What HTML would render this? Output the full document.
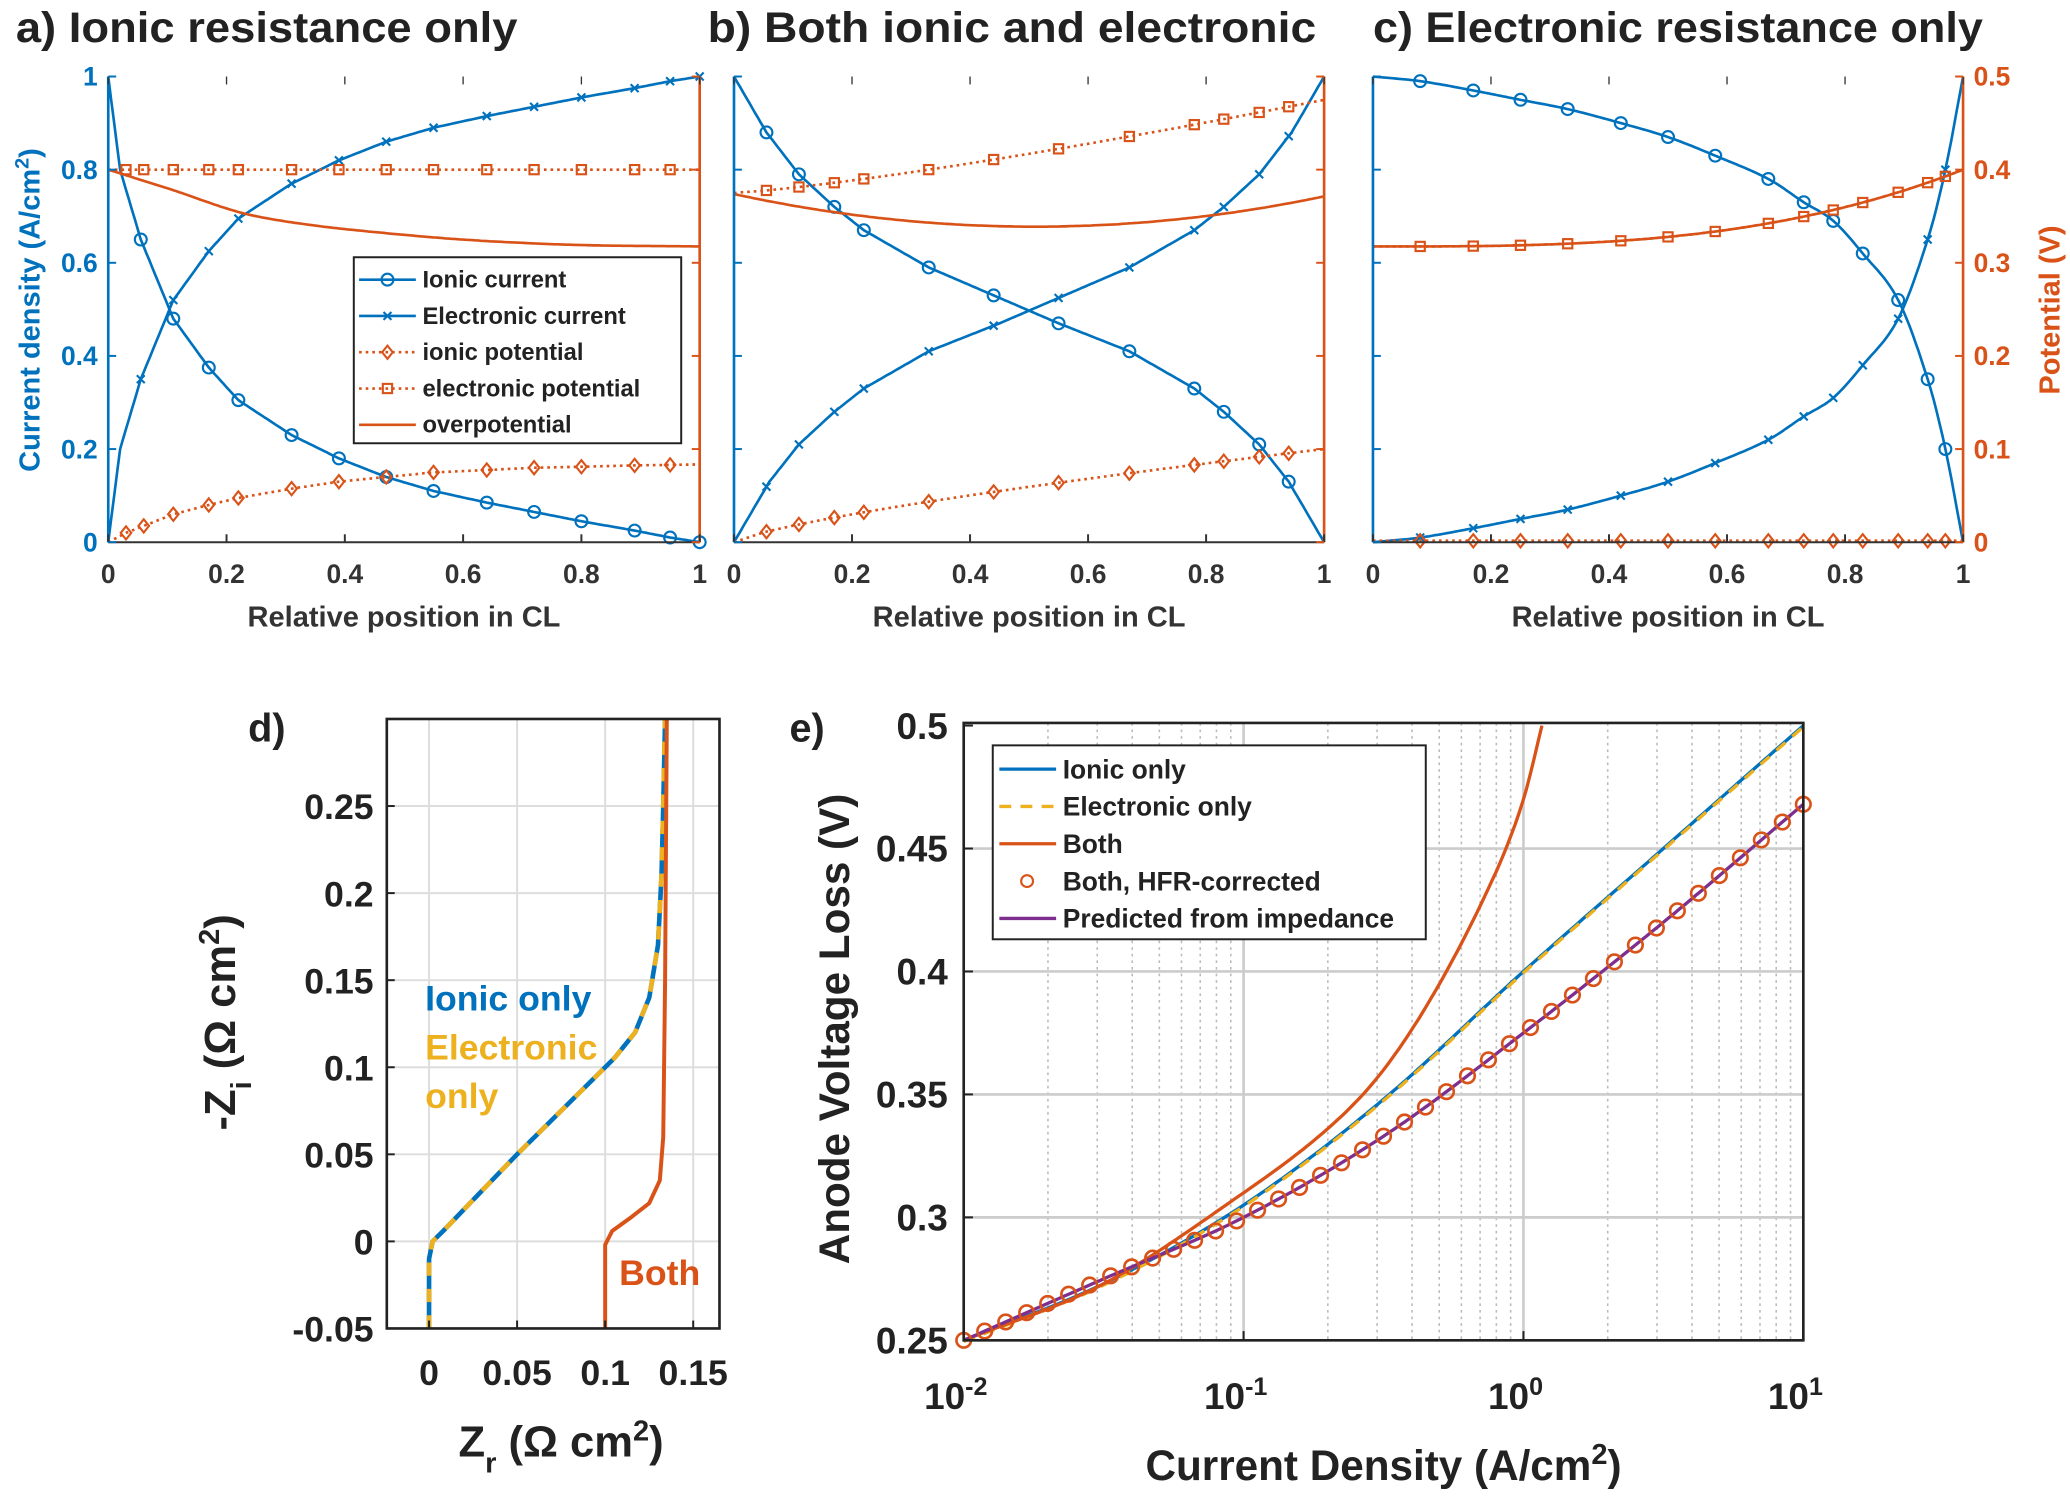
<!DOCTYPE html>
<html><head><meta charset="utf-8">
<style>
html,body{margin:0;padding:0;background:#fff;}
svg{display:block;font-family:"Liberation Sans",sans-serif;font-weight:bold;}
</style></head>
<body>
<svg id="s" width="2070" height="1496" viewBox="0 0 1568 1134" preserveAspectRatio="none" xmlns="http://www.w3.org/2000/svg">
</svg>
<script>
const B="#0072BD",O="#D95319",Y="#EDB120",P="#7E2F8E";
let h="";
function line(x1,y1,x2,y2,c,w,d){h+=`<line x1="${x1}" y1="${y1}" x2="${x2}" y2="${y2}" stroke="${c}" stroke-width="${w||1}" ${d?`stroke-dasharray="${d}"`:""}/>`;}
function txt(x,y,t,s,c,a,extra){h+=`<text x="${x}" y="${y}" font-size="${s}" fill="${c||'#222'}" text-anchor="${a||'start'}" ${extra||''}>${t}</text>`;}
function pl(pts,c,w,d){h+=`<polyline fill="none" stroke="${c}" stroke-width="${w}" stroke-linejoin="round" ${d?`stroke-dasharray="${d}"`:""} points="${pts.map(p=>p[0].toFixed(1)+","+p[1].toFixed(1)).join(" ")}"/>`;}
function interp(tab,x){for(let i=0;i<tab.length-1;i++){if(x<=tab[i+1][0]){const t=(x-tab[i][0])/(tab[i+1][0]-tab[i][0]);return tab[i][1]+t*(tab[i+1][1]-tab[i][1]);}}return tab[tab.length-1][1];}
function sinterp(tab,x){let i=0;while(i<tab.length-2&&x>tab[i+1][0])i++;
 const p0=tab[Math.max(i-1,0)],p1=tab[i],p2=tab[i+1],p3=tab[Math.min(i+2,tab.length-1)];
 const t=(x-p1[0])/(p2[0]-p1[0]);const m1=(p2[1]-p0[1])/(p2[0]-p0[0])*(p2[0]-p1[0]);const m2=(p3[1]-p1[1])/(p3[0]-p1[0])*(p2[0]-p1[0]);
 const t2=t*t,t3=t2*t;return (2*t3-3*t2+1)*p1[1]+(t3-2*t2+t)*m1+(-2*t3+3*t2)*p2[1]+(t3-t2)*m2;}
function marker(type,x,y,c){
 if(type=="o")h+=`<circle cx="${x}" cy="${y}" r="4.5" fill="none" stroke="${c}" stroke-width="1.6"/>`;
 if(type=="x"){h+=`<path d="M${x-3},${y-3}L${x+3},${y+3}M${x-3},${y+3}L${x+3},${y-3}" stroke="${c}" stroke-width="1.6"/>`;}
 if(type=="d")h+=`<path d="M${x},${y-5}L${x+4},${y}L${x},${y+5}L${x-4},${y}Z" fill="none" stroke="${c}" stroke-width="1.6"/>`;
 if(type=="s")h+=`<rect x="${x-3.5}" y="${y-3.5}" width="7" height="7" fill="none" stroke="${c}" stroke-width="1.6"/>`;
 if(type=="oo")h+=`<circle cx="${x}" cy="${y}" r="5.5" fill="none" stroke="${c}" stroke-width="2"/>`;
}
const T=58,Bt=411;
function topPanel(x0,x1,title,tx,tw,curves,leftLabels,rightLabels){
 const X=v=>x0+v*(x1-x0),Yv=v=>Bt-v*(Bt-T);
 for(const c of curves){
  const f=c.sm?sinterp:interp;
  const pts=[];for(let i=0;i<=200;i++){const v=i/200;pts.push([X(v),Yv(f(c.t,v))]);}
  pl(pts,c.c,2,c.dash);
  for(const m of c.m)marker(c.mk,X(m),Yv(f(c.t,m)),c.c);
 }
 line(x0,T,x0,Bt,B,2);line(x0,Bt,x1,Bt,"#333",1.5);line(x1,T,x1,Bt,O,2);
 for(let i=0;i<=5;i++){const x=X(i/5);line(x,Bt,x,Bt-6,"#333",1.5);line(x,T,x,T+6,"#333",1);
  txt(x,442,["0","0.2","0.4","0.6","0.8","1"][i],20,"#333","middle");}
 for(let i=0;i<=5;i++){const y=Yv(i/5);line(x0,y,x0+6,y,B,1.5);line(x1,y,x1-6,y,O,1.5);
  if(leftLabels)txt(x0-8,y+7,["0","0.2","0.4","0.6","0.8","1"][i],20,B,"end");
  if(rightLabels)txt(x1+8,y+7,["0","0.1","0.2","0.3","0.4","0.5"][i],20,O,"start");}
 txt((x0+x1)/2,475,"Relative position in CL",22,"#333","middle");
 txt(tx,32,title,32,"#222","start",'textLength="'+tw+'" lengthAdjust="spacingAndGlyphs"');
}
const mkA=[0,0.055,0.11,0.17,0.22,0.31,0.39,0.47,0.55,0.64,0.72,0.8,0.89,0.95,1];
const ionA=[[0,1],[0.02,0.8],[0.055,0.65],[0.11,0.48],[0.17,0.375],[0.22,0.305],[0.31,0.23],[0.39,0.18],[0.47,0.14],[0.55,0.11],[0.64,0.085],[0.72,0.065],[0.8,0.045],[0.89,0.025],[0.95,0.01],[1,0]];
const eleA=ionA.map(p=>[p[0],1-p[1]]);
topPanel(82,530,"a) Ionic resistance only",12,380,[
 {t:ionA,c:B,mk:"o",m:mkA.slice(1,15)},
 {t:eleA,c:B,mk:"x",m:mkA.slice(1,15)},
 {t:[[0,0],[0.03,0.02],[0.06,0.035],[0.11,0.06],[0.17,0.08],[0.22,0.095],[0.31,0.115],[0.39,0.13],[0.47,0.14],[0.55,0.15],[0.64,0.155],[0.72,0.16],[0.8,0.162],[0.89,0.165],[1,0.167]],c:O,mk:"d",m:[0.03,0.06,0.11,0.17,0.22,0.31,0.39,0.47,0.55,0.64,0.72,0.8,0.89,0.95],dash:"2,3"},
 {t:[[0,0.8],[1,0.8]],c:O,mk:"s",m:[0.03,0.06,0.11,0.17,0.22,0.31,0.39,0.47,0.55,0.64,0.72,0.8,0.89,0.95],dash:"2,3"},
 {t:[[0,0.8],[0.1,0.76],[0.25,0.7],[0.5,0.66],[0.75,0.64],[1,0.635]],c:O,mk:"",m:[],sm:true}
],true,false);
const mkB=[0.055,0.11,0.17,0.22,0.33,0.44,0.55,0.67,0.78,0.83,0.89,0.94];
const ionB=[[0,1],[0.055,0.88],[0.11,0.79],[0.17,0.72],[0.22,0.67],[0.33,0.59],[0.44,0.53],[0.55,0.47],[0.67,0.41],[0.78,0.33],[0.83,0.28],[0.89,0.21],[0.94,0.13],[1,0]];
const eleB=ionB.map(p=>[1-p[0],p[1]]).reverse();
topPanel(556,1003,"b) Both ionic and electronic",536,461,[
 {t:ionB,c:B,mk:"o",m:mkB},
 {t:eleB,c:B,mk:"x",m:mkB},
 {t:Array.from({length:21},(_,i)=>[i/20,0.2*Math.pow(i/20,0.75)]),c:O,mk:"d",m:mkB,dash:"2,3"},
 {t:Array.from({length:21},(_,i)=>[i/20,0.75+0.2*Math.pow(i/20,1.25)]),c:O,mk:"s",m:mkB,dash:"2,3"},
 {t:Array.from({length:21},(_,i)=>{const v=i/20;return [v,0.68+0.27*(v-0.5)*(v-0.5)-0.005*(v)];}),c:O,mk:"",m:[]}
],false,false);
const mkC=[0.08,0.17,0.25,0.33,0.42,0.5,0.58,0.67,0.73,0.78,0.83,0.89,0.94,0.97];
const ionC=[[0,1],[0.08,0.99],[0.17,0.97],[0.25,0.95],[0.33,0.93],[0.42,0.9],[0.5,0.87],[0.58,0.83],[0.67,0.78],[0.73,0.73],[0.78,0.69],[0.83,0.62],[0.89,0.52],[0.94,0.35],[0.97,0.2],[1,0]];
const potC=Array.from({length:41},(_,i)=>{const v=i/40;return [v,0.635+0.165*Math.pow(v,3)];});
topPanel(1040,1487,"c) Electronic resistance only",1040,462,[
 {t:ionC,c:B,mk:"o",m:mkC,sm:true},
 {t:ionC.map(p=>[p[0],1-p[1]]),c:B,mk:"x",m:mkC,sm:true},
 {t:[[0,0.003],[1,0.003]],c:O,mk:"d",m:mkC,dash:"2,3"},
 {t:potC,c:O,mk:"s",m:mkC,dash:"2,3"},
 {t:potC,c:O,mk:"",m:[]}
],false,true);
txt(0,0,"Current density (A/cm<tspan baseline-shift='super' font-size='15'>2</tspan>)",22,B,"middle",'transform="translate(30,235) rotate(-90)"');
txt(0,0,"Potential (V)",22,O,"middle",'transform="translate(1560,235) rotate(-90)"');
h+=`<rect x="268" y="195" width="248" height="141" fill="#fff" stroke="#222" stroke-width="1.5"/>`;
const lg=[["Ionic current",B,"o",""],["Electronic current",B,"x",""],["ionic potential",O,"d","2,3"],["electronic potential",O,"s","2,3"],["overpotential",O,"",""]];
lg.forEach((e,i)=>{const y=212+i*27.5;line(272,y,315,y,e[1],2,e[3]);if(e[2])marker(e[2],293.5,y,e[1]);txt(320,y+6,e[0],18,"#222");});
{const x0=293,x1=545,y0=545,y1=1007;
 const X=v=>325+v/0.05*66.7,Yv=v=>941-v/0.05*66;
 [0,0.05,0.1,0.15].forEach(v=>line(X(v),y0,X(v),y1,"#ddd",1.5));
 [-0.05,0,0.05,0.1,0.15,0.2,0.25].forEach(v=>line(x0,Yv(v),x1,Yv(v),"#ddd",1.5));
 const io=[[0,-0.05],[0,-0.01],[0.002,0.0],[0.008,0.006],[0.05,0.05],[0.09,0.09],[0.105,0.105],[0.117,0.12],[0.125,0.14],[0.13,0.17],[0.132,0.21],[0.133,0.25],[0.134,0.3]];
 pl(io.map(p=>[X(p[0]),Yv(p[1])]),B,3.5);
 pl(io.map(p=>[X(p[0]),Yv(p[1])]),Y,3.5,"10,10");
 const bo=[[0.1,-0.05],[0.1,-0.002],[0.104,0.006],[0.115,0.014],[0.125,0.022],[0.131,0.035],[0.133,0.06],[0.134,0.15],[0.135,0.3]];
 pl(bo.map(p=>[X(p[0]),Yv(p[1])]),O,3);
 h+=`<rect x="${x0}" y="${y0}" width="${x1-x0}" height="${y1-y0}" fill="none" stroke="#222" stroke-width="2"/>`;
 [-0.05,0,0.05,0.1,0.15,0.2,0.25].forEach((v,i)=>{line(x0,Yv(v),x0+6,Yv(v),"#222",1.5);txt(x0-10,Yv(v)+10,["-0.05","0","0.05","0.1","0.15","0.2","0.25"][i],27,"#222","end");});
 [0,0.05,0.1,0.15].forEach((v,i)=>{line(X(v),y1,X(v),y1-6,"#222",1.5);txt(X(v),1050,["0","0.05","0.1","0.15"][i],27,"#222","middle");});
 txt(322,766,"Ionic only",27,B);txt(322,803,"Electronic",27,Y);txt(322,840,"only",27,Y);txt(469,974,"Both",27,O);
 txt(188,562,"d)",30,"#222");
 txt(0,0,"-Z<tspan baseline-shift='sub' font-size='22'>i</tspan> (Ω cm<tspan baseline-shift='super' font-size='22'>2</tspan>)",33,"#222","middle",'transform="translate(178,775) rotate(-90)"');
 txt(425,1104,"Z<tspan baseline-shift='sub' font-size='22'>r</tspan> (Ω cm<tspan baseline-shift='super' font-size='22'>2</tspan>)",33,"#222","middle");
}
{const x0=730,x1=1366,y0=548,y1=1016;
 const X=l=>730+(l+2)*212,Yv=v=>1016-(v-0.25)/0.05*93.2;
 for(let d=-2;d<1;d++)for(let k=2;k<=9;k++){const x=X(d+Math.log10(k));line(x,y0,x,y1,"#bbb",1.2,"2,3");}
 [-1,0].forEach(l=>line(X(l),y0,X(l),y1,"#ccc",2));
 [0.3,0.35,0.4,0.45].forEach(v=>line(x0,Yv(v),x1,Yv(v),"#ccc",2));
 const ion=[[-2,.25],[-1.5,.273],[-1,.305],[-0.5,.348],[0,.40],[0.5,.45],[1,.5]];
 const hfr=[[-2,.25],[-1.5,.275],[-1,.30],[-0.5,.333],[0,.375],[0.5,.42],[1,.468]];
 const both=[[-2,.25],[-1.5,.273],[-1,.31],[-0.7,.336],[-0.5,.36],[-0.3,.395],[-0.1,.44],[0,.47],[0.066,.5]];
 const mk=(t,n,end)=>Array.from({length:n+1},(_,i)=>{const l=-2+(end+2)*i/n;return [X(l),Yv(sinterp(t,l))];});
 pl(mk(ion,150,1),B,2.5);
 pl(mk(ion,150,1).map(p=>[p[0],p[1]+1]),Y,2.5,"9,7");
 pl(mk(both,150,0.066),O,2.5);
 pl(mk(hfr,150,1),P,2.5);
 mk(hfr,40,1).forEach(p=>marker("oo",p[0],p[1],O));
 h+=`<rect x="${x0}" y="${y0}" width="${x1-x0}" height="${y1-y0}" fill="none" stroke="#222" stroke-width="2"/>`;
 [0.25,0.3,0.35,0.4,0.45,0.5].forEach((v,i)=>{line(x0,Yv(v),x0+7,Yv(v),"#222",1.5);txt(x0-12,Yv(v)+10,["0.25","0.3","0.35","0.4","0.45","0.5"][i],28,"#222","end");});
 [-2,-1,0,1].forEach(l=>{line(X(l),y1,X(l),y1-7,"#222",1.5);txt(X(l)-6,1068,"10<tspan baseline-shift='super' font-size='19'>"+(l<0?"-":"")+Math.abs(l)+"</tspan>",28,"#222","middle");});
 h+=`<rect x="752" y="565" width="328" height="147" fill="#fff" stroke="#222" stroke-width="1.5"/>`;
 const L=[["Ionic only",B,""],["Electronic only",Y,"9,7"],["Both",O,""],["Both, HFR-corrected",O,"m"],["Predicted from impedance",P,""]];
 L.forEach((e,i)=>{const y=583+i*28.3;if(e[2]=="m")marker("o",778,y,O);else line(757,y,800,y,e[1],2.5,e[2]);txt(805,y+7,e[0],20,"#222");});
 txt(598,562,"e)",30,"#222");
 txt(0,0,"Anode Voltage Loss (V)",32,"#222","middle",'transform="translate(643,780) rotate(-90)"');
 txt(1048,1122,"Current Density (A/cm<tspan baseline-shift='super' font-size='22'>2</tspan>)",32,"#222","middle");
}
document.getElementById("s").innerHTML=h;
</script>
</body></html>
